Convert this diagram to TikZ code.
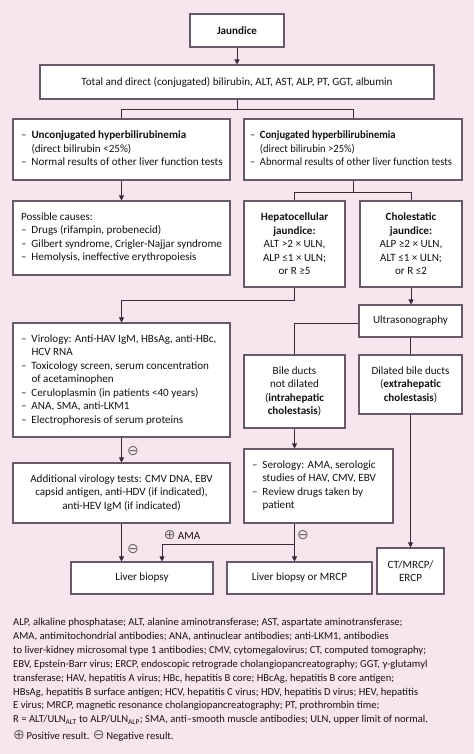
\documentclass[tikz,border=0pt]{standalone}
\usepackage{fontspec}
\usepackage{graphicx}
\setmainfont{Carlito}
\newfontfamily\symfont{DejaVu Sans}
\usetikzlibrary{arrows.meta}
\definecolor{bg}{RGB}{248,230,238}
\definecolor{bord}{RGB}{105,90,105}
\definecolor{txt}{RGB}{22,18,20}
\definecolor{lnc}{RGB}{55,45,55}
\definecolor{sym}{RGB}{100,100,100}
\newcommand\itm{\makebox[10.5pt][l]{–}}
\newcommand\hng{\hspace*{10.5pt}}
\newcommand\posc{{\symfont\color{sym}⊕}}
\newcommand\negc{{\symfont\color{sym}⊖}}
\newcommand\lbox[2]{\makebox[#1][l]{\begin{tabular}{@{}l@{}}#2\end{tabular}}}
\begin{document}
\begin{tikzpicture}[x=1pt,y=-1pt,
  font=\fontsize{11.1}{13.5}\selectfont,
  every node/.style={text=txt},
  bx/.style={draw=bord, line width=1.1pt, fill=white, inner sep=0pt},
  ln/.style={draw=lnc, line width=0.8pt},
  arr/.style={ln, -{Triangle[length=5pt,width=5pt]}},
  sg/.style={font=\fontsize{14}{14}\selectfont, inner sep=0pt},
  lg/.style={anchor=base west, inner sep=0pt, font=\fontsize{10.6}{13.9}\selectfont}]
\fill[bg] (0,0) rectangle (474,754);
\useasboundingbox (0,0) rectangle (474,754);

% boxes
\node[bx, minimum width=94pt, minimum height=33pt] (jau) at (237,30.5) {\textbf{Jaundice}};
\node[bx, minimum width=394pt, minimum height=34pt] (tot) at (237,82) {Total and direct (conjugated) bilirubin, ALT, AST, ALP, PT, GGT, albumin};
\node[bx, minimum width=217pt, minimum height=61pt] (unc) at (121.5,149.5)
  {\lbox{201pt}{\itm\textbf{Unconjugated hyperbilirubinemia}\\\hng(direct bilirubin <25\%)\\\itm Normal results of other liver function tests}};
\node[bx, minimum width=218pt, minimum height=61pt] (con) at (353,149.5)
  {\makebox[206pt][l]{\scalebox{0.95}[1]{\begin{tabular}{@{}l@{}}\itm\textbf{Conjugated hyperbilirubinemia}\\\hng(direct bilirubin >25\%)\\\itm Abnormal results of other liver function tests\end{tabular}}}};
\node[bx, minimum width=217pt, minimum height=74pt] (cau) at (121.5,238)
  {\lbox{201pt}{Possible causes:\\\itm Drugs (rifampin, probenecid)\\\itm Gilbert syndrome, Crigler-Najjar syndrome\\\itm Hemolysis, ineffective erythropoiesis}};
\node[bx, minimum width=101pt, minimum height=86pt, align=center] (hep) at (294.5,244)
  {\textbf{Hepatocellular}\\\textbf{jaundice:}\\ALT >2 × ULN,\\ALP ≤1 × ULN;\\or R ≥5};
\node[bx, minimum width=102pt, minimum height=86pt, align=center] (cho) at (411,244)
  {\textbf{Cholestatic}\\\textbf{jaundice:}\\ALP ≥2 × ULN,\\ALT ≤1 × ULN;\\or R ≤2};
\node[bx, minimum width=217pt, minimum height=114pt] (vir) at (121.5,380)
  {\lbox{201pt}{\itm Virology: Anti-HAV IgM, HBsAg, anti-HBc,\\\hng HCV RNA\\\itm Toxicology screen, serum concentration\\\hng of acetaminophen\\\itm Ceruloplasmin (in patients <40 years)\\\itm ANA, SMA, anti-LKM1\\\itm Electrophoresis of serum proteins}};
\node[bx, minimum width=103pt, minimum height=32pt] (ult) at (410.5,321) {Ultrasonography};
\node[bx, minimum width=101pt, minimum height=73pt, align=center] (bil) at (294.5,391.5)
  {Bile ducts\\not dilated\\(\textbf{intrahepatic}\\\textbf{cholestasis})};
\node[bx, minimum width=103pt, minimum height=59pt, align=center] (dil) at (410.5,384.5)
  {Dilated bile ducts\\(\textbf{extrahepatic}\\\textbf{cholestasis})};
\node[bx, minimum width=217pt, minimum height=60pt, align=center] (add) at (121.5,493)
  {Additional virology tests: CMV DNA, EBV\\capsid antigen, anti-HDV (if indicated),\\anti-HEV IgM (if indicated)};
\node[bx, minimum width=149pt, minimum height=74pt] (ser) at (318.5,486)
  {\lbox{133pt}{\itm Serology: AMA, serologic\\\hng studies of HAV, CMV, EBV\\\itm Review drugs taken by\\\hng patient}};
\node[bx, minimum width=142pt, minimum height=32pt] (bio) at (142,578) {Liver biopsy};
\node[bx, minimum width=145pt, minimum height=32pt] (bmr) at (299.5,578) {Liver biopsy or MRCP};
\node[bx, minimum width=67pt, minimum height=46pt, align=center] (ct) at (410.5,571) {CT/MRCP/\\ERCP};

% connectors
\draw[arr] (jau) -- (tot);
\draw[ln] (tot.south) -- ++(0,10) -| (unc.north);
\draw[ln] (tot.south) -- ++(0,10) -| (con.north);
\draw[arr] (unc) -- (cau);
\draw[ln] (con.south) -- ++(0,12) -| (hep.north);
\draw[ln] (con.south) -- ++(0,12) -| (cho.north);
\draw[arr] (hep.south) -- ++(0,13) -| (vir.north);
\draw[arr] (cho.south) -- (cho.south |- ult.north);
\draw[ln] ([yshift=-2pt]ult.west) -| (bil.north);
\draw[ln] (ult.south) -- (ult.south |- dil.north);
\draw[arr] (vir) -- (add);
\draw[arr] (bil.south) -- (bil.south |- ser.north);
\draw[arr] (dil.south) -- (dil.south |- ct.north);
\draw[arr] (add.south) -- (add.south |- bio.north);
\coordinate (sb) at (bil.south |- ser.south);
\coordinate (amaj) at (294.5,544);
\draw[arr] (sb) -- (sb |- bmr.north);
\draw[arr] (amaj) -| ([xshift=20pt]bio.north);

% result signs
\node[sg] (n1) at (133,451) {\negc};
\node[sg] (n2) at (133,549) {\negc};
\node[sg] (n3) at (303,535) {\negc};
\node[sg] (p1) at (182,535) {\posc\,{\fontsize{11.1}{13}\selectfont AMA}};

% legend
\node[lg] (l1) at (13,625.5) {ALP, alkaline phosphatase; ALT, alanine aminotransferase; AST, aspartate aminotransferase;};
\node[lg] (l2) at (13,639.4) {AMA, antimitochondrial antibodies; ANA, antinuclear antibodies; anti-LKM1, antibodies};
\node[lg] (l3) at (13,653.3) {to liver-kidney microsomal type 1 antibodies; CMV, cytomegalovirus; CT, computed tomography;};
\node[lg] (l4) at (13,667.2) {EBV, Epstein-Barr virus; ERCP, endoscopic retrograde cholangiopancreatography; GGT, γ-glutamyl};
\node[lg] (l5) at (13,681.1) {transferase; HAV, hepatitis A virus; HBc, hepatitis B core; HBcAg, hepatitis B core antigen;};
\node[lg] (l6) at (13,695.0) {HBsAg, hepatitis B surface antigen; HCV, hepatitis C virus; HDV, hepatitis D virus; HEV, hepatitis};
\node[lg] (l7) at (13,708.9) {E virus; MRCP, magnetic resonance cholangiopancreatography; PT, prothrombin time;};
\node[lg] (l8) at (13,722.8) {R = ALT/ULN\textsubscript{ALT} to ALP/ULN\textsubscript{ALP}; SMA, anti–smooth muscle antibodies; ULN, upper limit of normal.};
\node[lg] (l9) at (13,739) {{\fontsize{14}{14}\selectfont\posc}\,Positive result. {\fontsize{14}{14}\selectfont\negc}\,Negative result.};
\end{tikzpicture}
\end{document}
